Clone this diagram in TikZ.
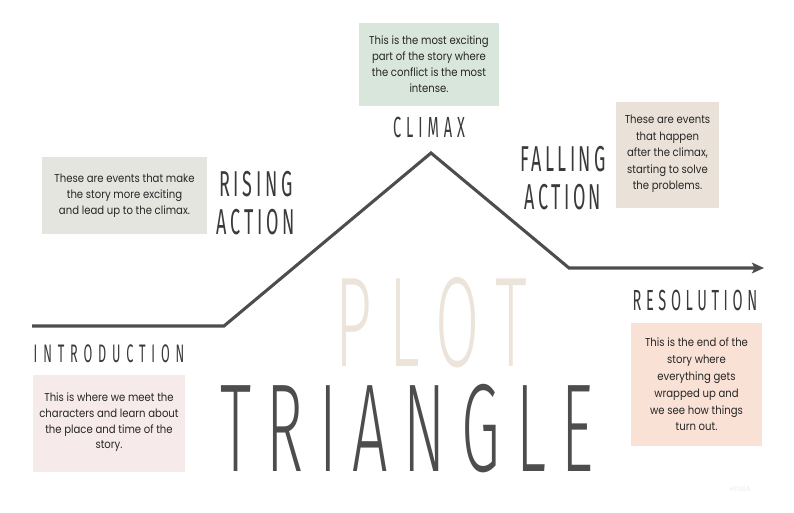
\documentclass[tikz,border=0pt]{standalone}
\usepackage{fontspec}
\usetikzlibrary{arrows.meta}
\setmainfont{Poppins}
\newfontfamily\bodyfont[FakeStretch=0.88]{Poppins}
\newfontfamily\titlefont[FakeStretch=0.5]{Fira Sans}
\newfontfamily\bigfont[FakeStretch=0.5]{Fira Sans Light}
\newcommand{\tfont}[3]{\titlefont\addfontfeature{LetterSpace=#1}\fontsize{#2}{#3}\selectfont}
\newcommand{\bfont}[2]{\bigfont\addfontfeature{LetterSpace=#1}\fontsize{#2}{#2}\selectfont}
\newcommand{\boxfont}[1]{\bodyfont\fontsize{8.6}{#1}\selectfont}
\definecolor{linegray}{HTML}{4D4D4D}
\definecolor{climaxbg}{HTML}{D8E6DB}
\definecolor{risingbg}{HTML}{E5E5DF}
\definecolor{fallingbg}{HTML}{EAE2D8}
\definecolor{introbg}{HTML}{F6EAEA}
\definecolor{resolbg}{HTML}{F9E1D6}
\definecolor{plotcol}{HTML}{ECE4DA}
\definecolor{titlecol}{HTML}{3A3A3A}
\tikzset{
  infobox/.style={inner sep=0pt, align=center, text=black!85},
  stagelabel/.style={inner sep=0pt, align=center, text=titlecol},
  plotline/.style={line width=2.3pt, draw=linegray, line join=miter}
}
\begin{document}
\begin{tikzpicture}[x=0.75pt,y=-0.75pt]
\useasboundingbox (0,0) rectangle (794,513);
\fill[white] (0,0) rectangle (794,513);
% boxes
\fill[climaxbg] (359,23) rectangle (499,106);
\fill[risingbg] (42,157) rectangle (207,234);
\fill[fallingbg] (616,102) rectangle (719,208);
\fill[introbg] (33,375) rectangle (185,472);
\fill[resolbg] (631,323) rectangle (762,446);
\node[infobox, font=\boxfont{12}] (climaxtxt) at (429,64.5) {This is the most exciting\\part of the story where\\the conflict is the most\\intense.};
\node[infobox, font=\boxfont{12}] (risingtxt) at (124.5,195.5) {These are events that make\\the story more exciting\\and lead up to the climax.};
\node[infobox, font=\boxfont{12.4}] (fallingtxt) at (667.5,154) {These are events\\that happen\\after the climax,\\starting to solve\\the problems.};
\node[infobox, font=\boxfont{12.6}] (resoltxt) at (696.5,384.5) {This is the end of the\\story where\\everything gets\\wrapped up and\\we see how things\\turn out.};
\node[infobox, font=\boxfont{11.8}] (introtxt) at (109,422.5) {This is where we meet the\\characters and learn about\\the place and time of the\\story.};
% stage labels
\node[stagelabel, font=\tfont{17}{21.8}{26}] (climax) at (429,127) {CLIMAX};
\node[stagelabel, font=\tfont{10.5}{27}{28}] (rising) at (256,203) {RISING\\ACTION};
\node[stagelabel, font=\tfont{9.5}{27}{29}] (falling) at (563,178) {FALLING\\ACTION};
\node[stagelabel, font=\tfont{23}{19}{22}] (intro) at (109,353.5) {INTRODUCTION};
\node[stagelabel, font=\tfont{16}{21.8}{26}] (resol) at (695,300) {RESOLUTION};
% title
\node[inner sep=0pt, anchor=base, text=plotcol, font=\bfont{14}{96}] (plot) at (431,367) {PLOT};
\node[inner sep=0pt, anchor=base, text=linegray, font=\bfont{12.5}{94}] (triangle) at (407,472) {TRIANGLE};
\node[inner sep=0pt, text=black!8, font=\fontsize{5}{6}\selectfont] (mark) at (740,489) {HTUSA};
% plot line
\coordinate (start) at (32,326);
\coordinate (rise) at (224,326);
\coordinate (peak) at (431,153);
\coordinate (fall) at (569,268);
\coordinate (end) at (764,268);
\draw[plotline, -{Stealth[length=9pt,width=8pt,inset=2pt]}] (start) -- (rise) -- (peak) -- (fall) -- (end);
\end{tikzpicture}
\end{document}
